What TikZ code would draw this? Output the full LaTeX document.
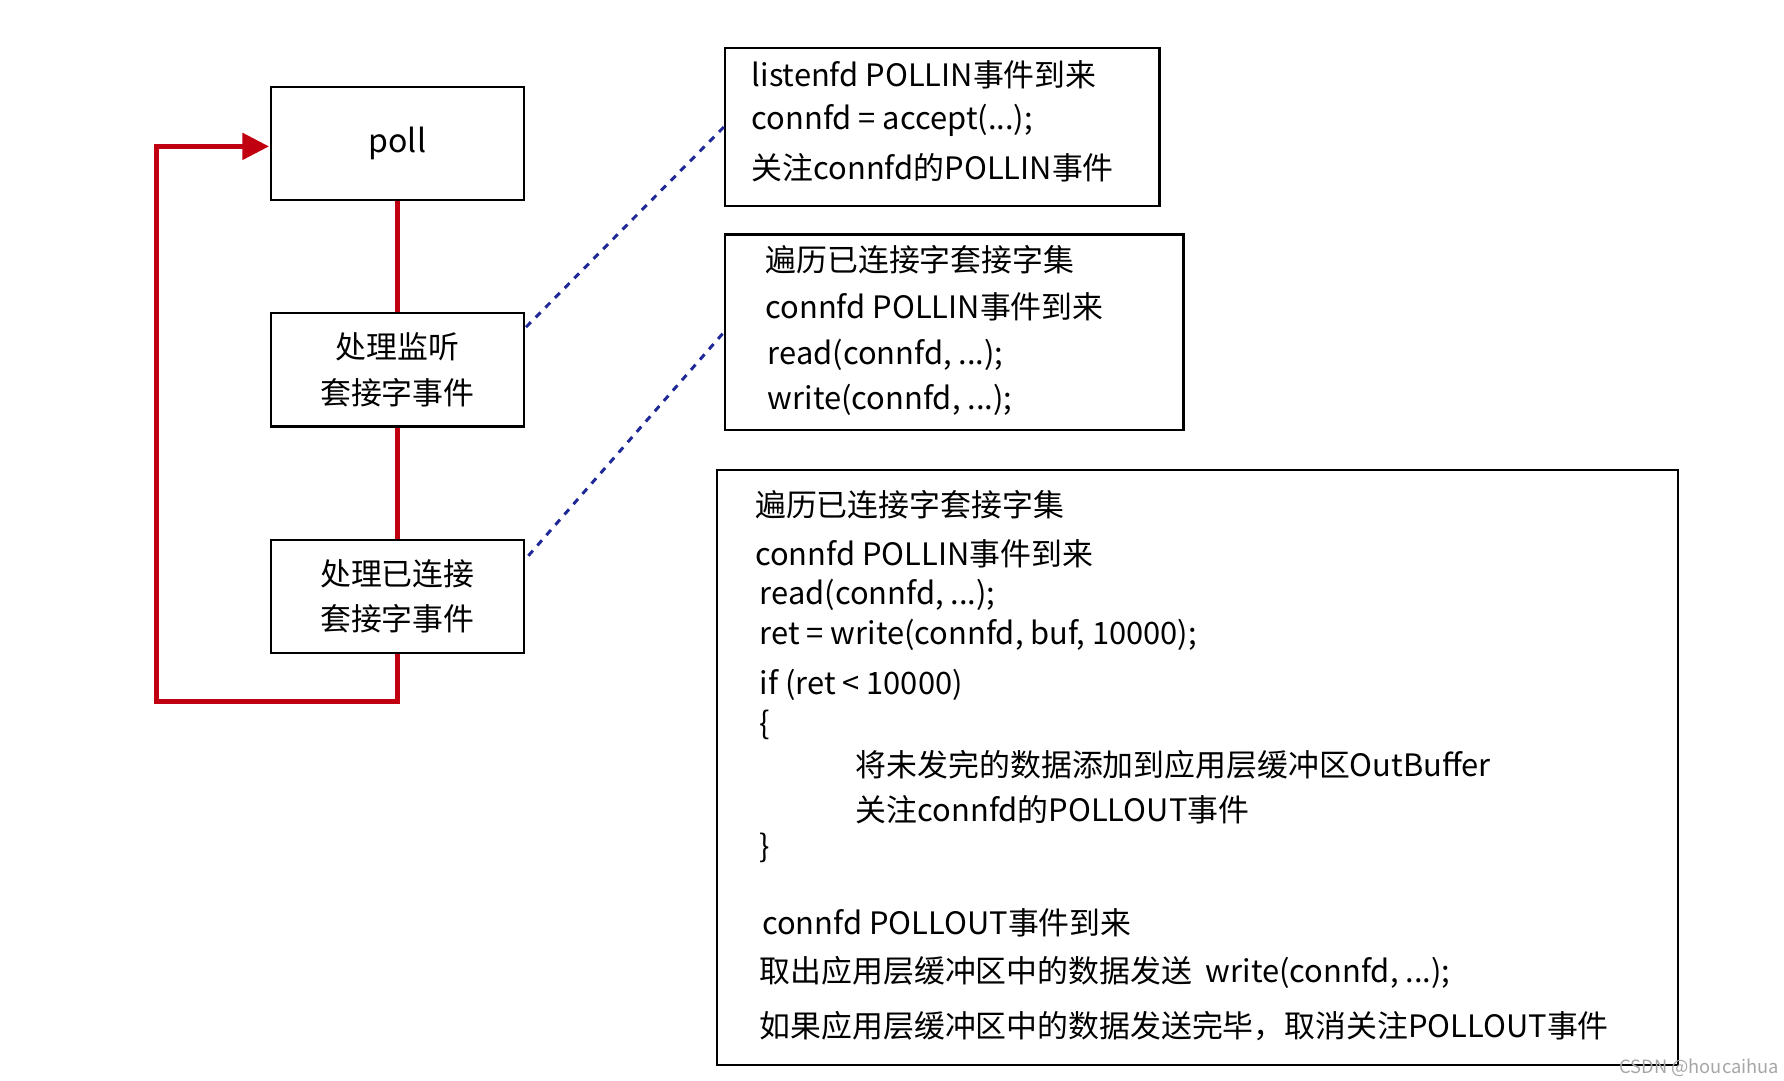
\documentclass[tikz,border=0pt]{standalone}
\usepackage{fontspec}
\setmainfont{Noto Sans CJK SC}
\begin{document}
\begin{tikzpicture}[x=0.5pt,y=-0.5pt,
  box/.style={draw,line width=1pt,inner sep=0},
  txt/.style={anchor=west,font=\fontsize{13.5}{15}\selectfont,inner sep=0},
  red/.style={draw={rgb,255:red,192;green,0;blue,16},line width=2.2pt},
  dsh/.style={draw={rgb,255:red,30;green,40;blue,150},dashed,line width=1.3pt}]
\useasboundingbox (0,0) rectangle (1560,944.4);
\node[box,minimum width=110.5pt,minimum height=49.5pt] (poll) at (347.5,125.5) {\fontsize{14}{16}\selectfont poll};
\node[box,minimum width=110.5pt,minimum height=49.5pt,align=center,font=\fontsize{13.5}{20}\selectfont] (h1) at (347.5,323.5) {处理监听\\套接字事件};
\node[box,minimum width=110.5pt,minimum height=49.5pt,align=center,font=\fontsize{13.5}{20}\selectfont] (h2) at (347.5,521.5) {处理已连接\\套接字事件};
\draw[red] (poll.south) -- (h1.north);
\draw[red] (h1.south) -- (h2.north);
\coordinate (c1) at (137,613);
\coordinate (c2) at (137,128);
\draw[red] (h2.south) |- (c1) -- (c2) -- (215,128);
\fill[red!75!black,fill={rgb,255:red,192;green,0;blue,16}] (212,116) -- (235,128) -- (212,140) -- cycle;
\node[box,minimum width=190pt,minimum height=69pt,anchor=north west] (b1) at (633,41) {};
\node[box,minimum width=200.5pt,minimum height=85.5pt,anchor=north west] (b2) at (633,204) {};
\node[box,minimum width=420pt,minimum height=260pt,anchor=north west] (b3) at (626,410) {};
\coordinate (d1) at (460,286); \coordinate (d2) at (462,486);
\draw[dsh] (d1) -- (b1.west);
\draw[dsh] (d2) -- ([yshift=-0pt]b2.west);
\node[txt] (t1) at (657,65) {listenfd POLLIN事件到来};
\node[txt] (t2) at (657,105) {connfd = accept(...);};
\node[txt] (t3) at (657,147) {关注connfd的POLLIN事件};
\node[txt] (u1) at (669,227) {遍历已连接字套接字集};
\node[txt] (u2) at (669,268) {connfd POLLIN事件到来};
\node[txt] (u3) at (671,310) {read(connfd, ...);};
\node[txt] (u4) at (671,350) {write(connfd, ...);};
\node[txt] (v1) at (660,441) {遍历已连接字套接字集};
\node[txt] (v2) at (660,484) {connfd POLLIN事件到来};
\node[txt] (v3) at (664,520) {read(connfd, ...);};
\node[txt] (v4) at (664,555) {ret = write(connfd, buf, 10000);};
\node[txt] (v5) at (664,599) {if (ret < 10000)};
\node[txt] (v6) at (664,634) {\{};
\node[txt] (v7) at (748,669) {将未发完的数据添加到应用层缓冲区OutBuffer};
\node[txt] (v8) at (748,708) {关注connfd的POLLOUT事件};
\node[txt] (v9) at (664,741) {\}};
\node[txt] (w1) at (666,807) {connfd POLLOUT事件到来};
\node[txt] (w2) at (664,850) {取出应用层缓冲区中的数据发送\ \ write(connfd, ...);};
\node[txt] (w3) at (664,897) {如果应用层缓冲区中的数据发送完毕，取消关注POLLOUT事件};
\node[anchor=east,inner sep=0,text=gray!70,font=\fontsize{8}{9}\selectfont] (wm) at (1556,934) {CSDN @houcaihua};
\end{tikzpicture}
\end{document}
